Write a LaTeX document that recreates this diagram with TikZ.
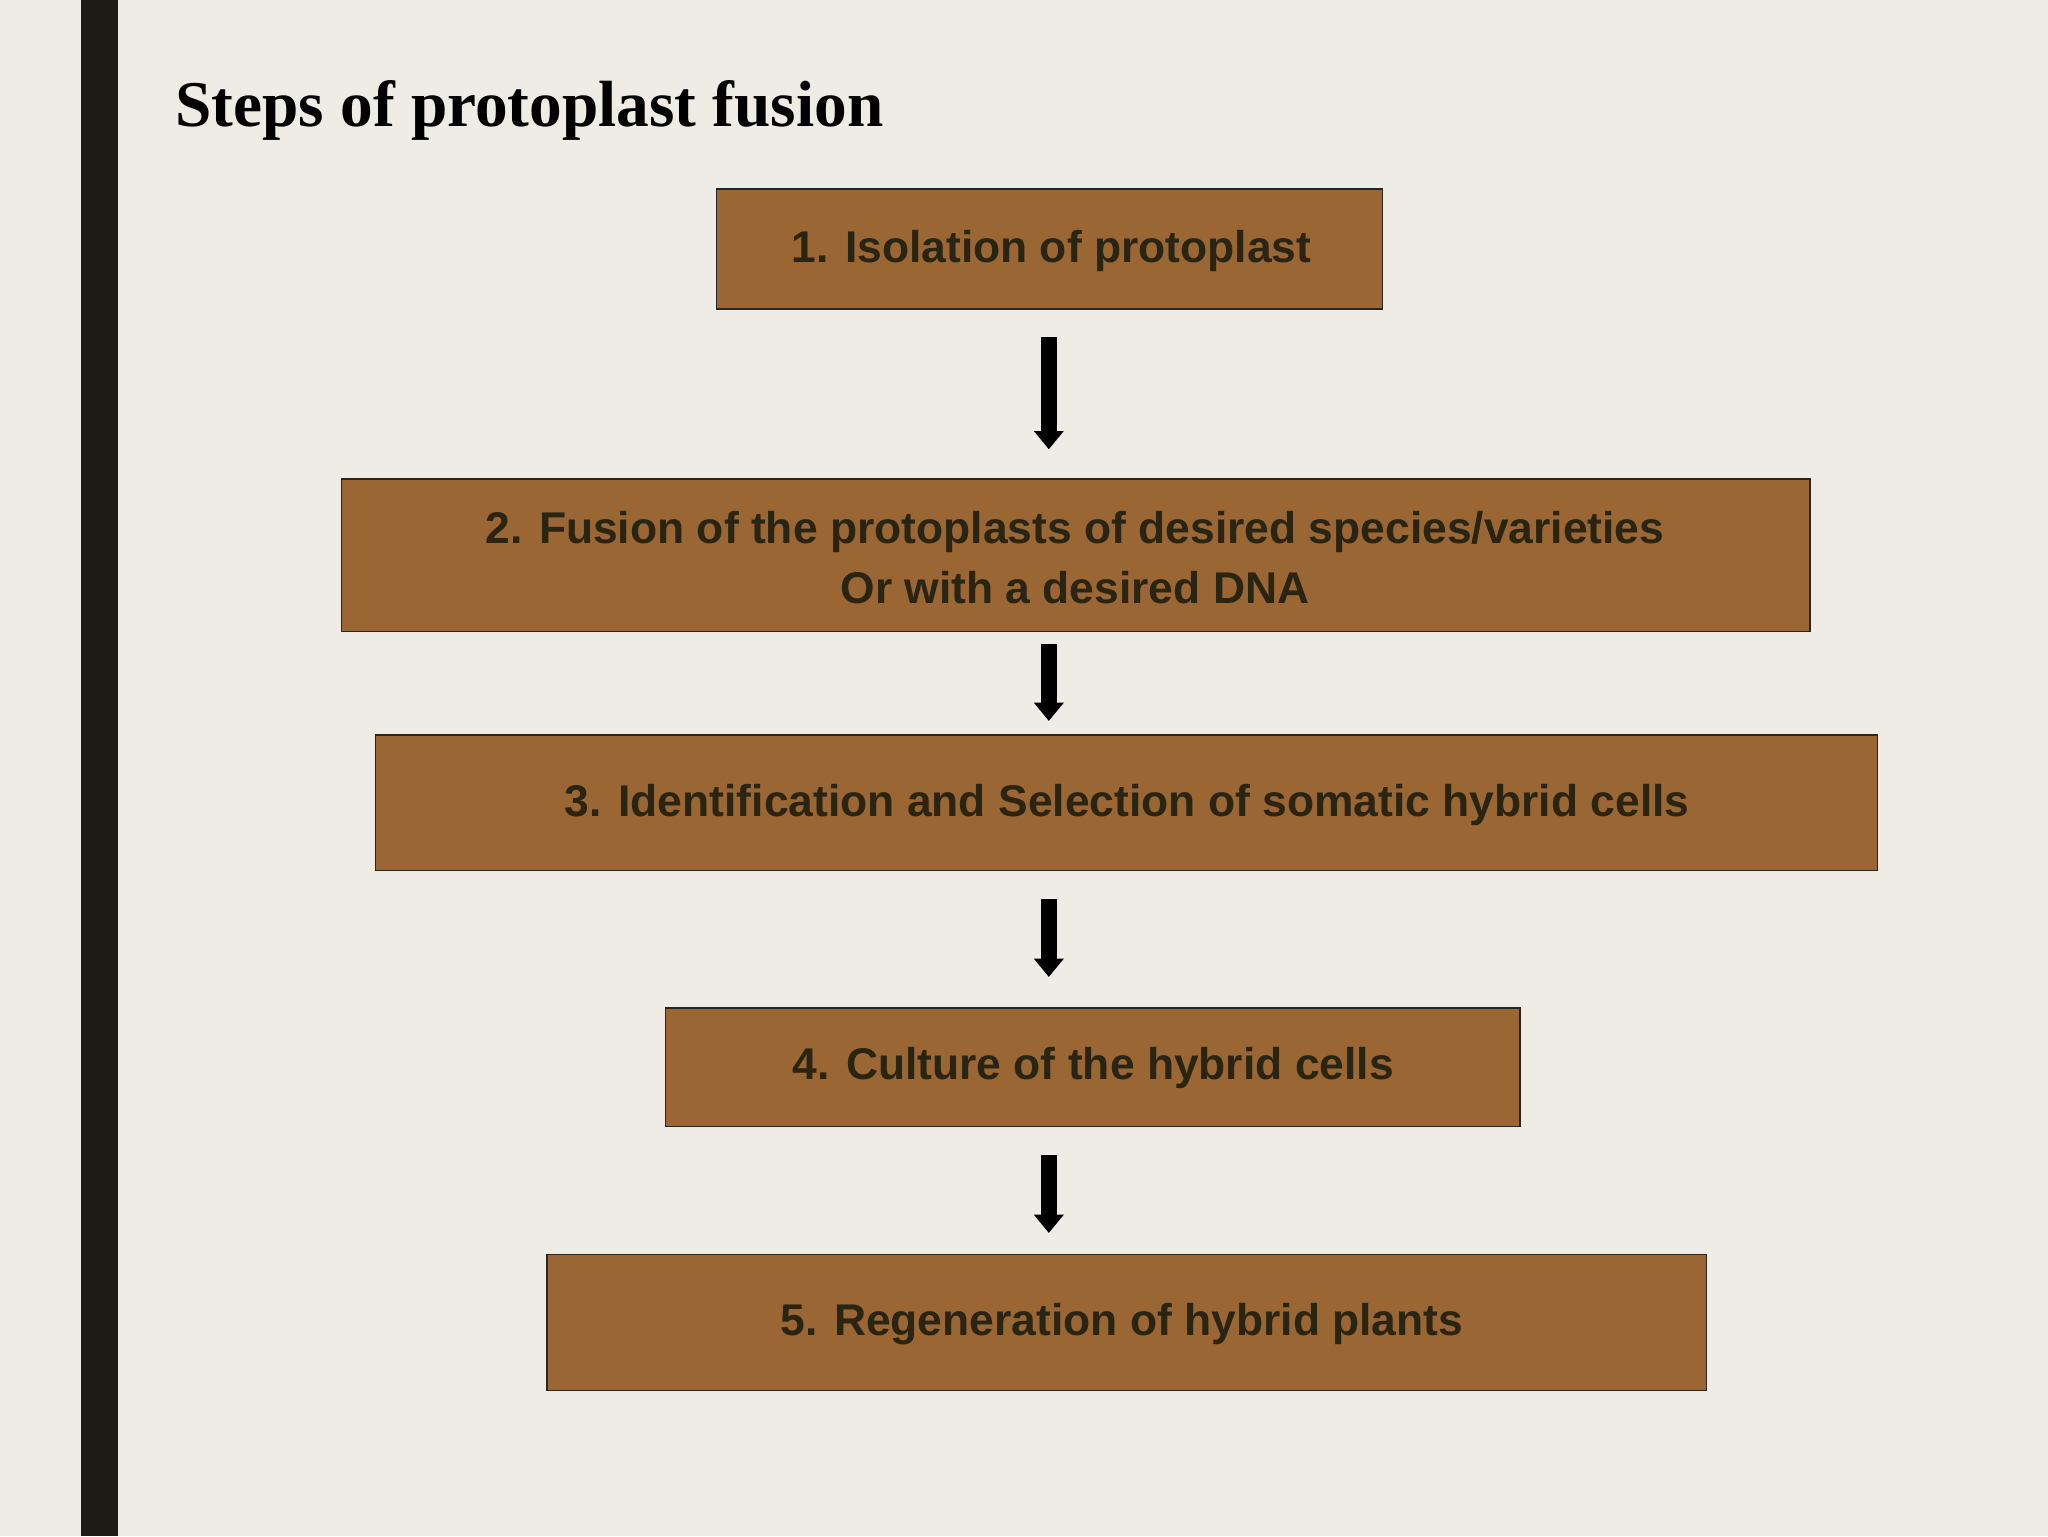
\documentclass[tikz,border=0pt]{standalone}
\usepackage{fontspec}
\setmainfont{Liberation Serif}
\setsansfont{Liberation Sans}
\usetikzlibrary{arrows.meta}
\definecolor{bg}{HTML}{EEECE5}
\definecolor{bar}{HTML}{1E1C14}
\definecolor{boxfill}{HTML}{9A6634}
\definecolor{txt}{HTML}{2A2412}
\tikzset{
  stepbox/.style={draw=black!85, line width=1.2pt, fill=boxfill, anchor=north west, inner sep=0pt},
  steptext/.style={font=\sffamily\bfseries\fontsize{34}{46}\selectfont, text=txt, align=center},
  flow/.style={line width=12pt, -{Triangle[width=22pt,length=14pt]}, black}
}
\begin{document}
\begin{tikzpicture}[x=1pt,y=-1pt]
\fill[bg] (0,0) rectangle (1568,1176);
\useasboundingbox (0,0) rectangle (1568,1176);
\fill[bar] (62,0) rectangle (90,1176);
\node[anchor=base west, font=\bfseries\fontsize{50}{60}\selectfont, inner sep=0pt] (title) at (134,97) {Steps of protoplast fusion};
\node[stepbox, minimum width=510, minimum height=92] (b1) at (548,144) {};
\node[steptext] (t1) at (805,192) {1. Isolation of protoplast};
\node[stepbox, minimum width=1124, minimum height=117] (b2) at (261,366) {};
\node[steptext] (t2) at (823,427) {2. Fusion of the protoplasts of desired species/varieties\\Or with a desired DNA};
\node[stepbox, minimum width=1150, minimum height=104] (b3) at (287,562) {};
\node[steptext] (t3) at (863,616) {3. Identification and Selection of somatic hybrid cells};
\node[stepbox, minimum width=654, minimum height=91] (b4) at (509,771) {};
\node[steptext] (t4) at (837,818) {4. Culture of the hybrid cells};
\node[stepbox, minimum width=888, minimum height=104] (b5) at (418,960) {};
\node[steptext] (t5) at (859,1014) {5. Regeneration of hybrid plants};
\coordinate (a1s) at (803,258); \coordinate (a1e) at (803,344);
\coordinate (a2s) at (803,493); \coordinate (a2e) at (803,552);
\coordinate (a3s) at (803,688); \coordinate (a3e) at (803,748);
\coordinate (a4s) at (803,884); \coordinate (a4e) at (803,944);
\draw[flow] (a1s) -- (a1e);
\draw[flow] (a2s) -- (a2e);
\draw[flow] (a3s) -- (a3e);
\draw[flow] (a4s) -- (a4e);
\end{tikzpicture}
\end{document}
